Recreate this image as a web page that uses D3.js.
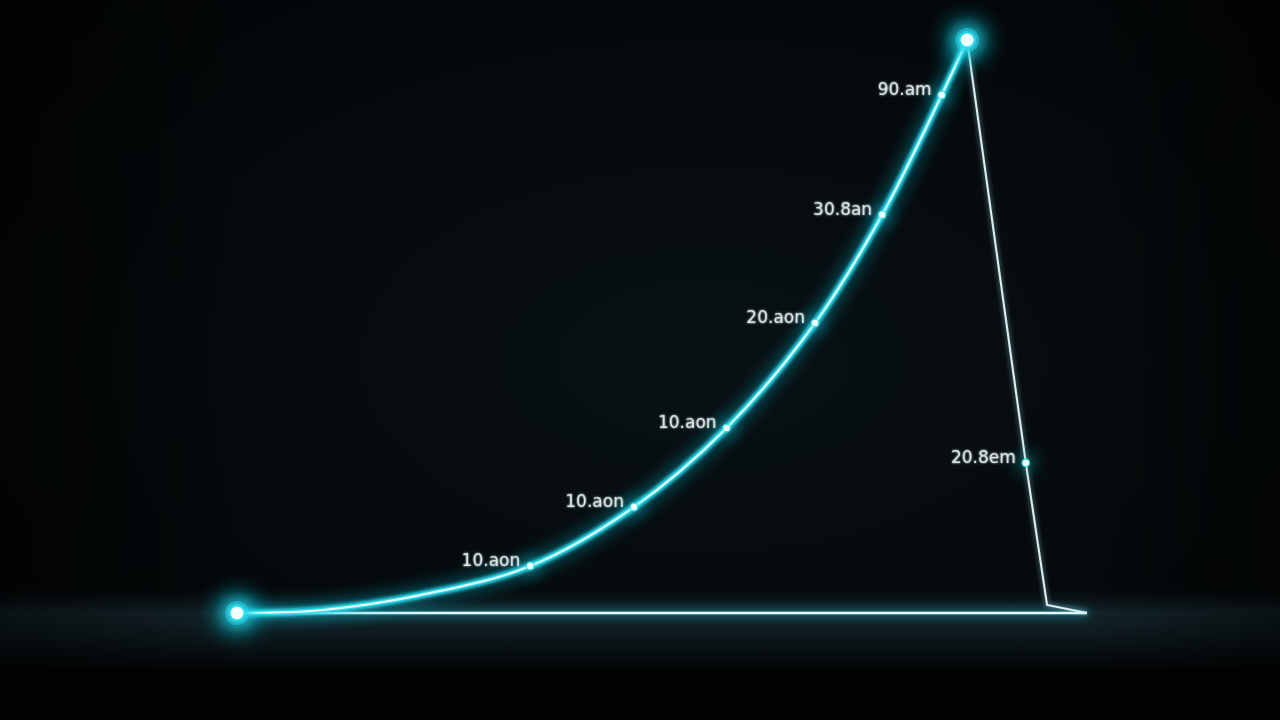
<!DOCTYPE html>
<html><head><meta charset="utf-8">
<script src="https://cdn.jsdelivr.net/npm/d3@7"></script>
<style>html,body{margin:0;padding:0;background:#04080b;overflow:hidden}svg{display:block}</style>
</head><body>
<svg id="c" width="1280" height="720"></svg>
<script>
// Data (x: 0-100 along baseline, y: 0-100 height)
const curveX = [0, 9.8, 21.5, 34.5, 46.7, 57.6, 68.0, 75.9, 82.9, 85.9];
const curveY = [0, 0.5, 3.1, 8.2, 18.5, 32.3, 50.6, 69.5, 90.4, 100];
const curveLabels = ["", "", "", "10.aon", "10.aon", "10.aon", "20.aon", "30.8an", "90.am", ""];
const curveDots = [true, false, false, true, true, true, true, true, true, true];
const dropX = [85.9, 92.8, 95.3, 100];
const dropY = [100, 26.2, 1.4, 0];
const dropLabels = ["", "20.8em", "", ""];

const svg = d3.select("#c");
const W = 1280, H = 720;
const x = d3.scaleLinear().domain([0, 100]).range([237, 1087]);
const y = d3.scaleLinear().domain([0, 100]).range([613, 40]);

const defs = svg.append("defs");
const bg = defs.append("radialGradient").attr("id","bg").attr("cx","55%").attr("cy","50%").attr("r","75%");
bg.append("stop").attr("offset","0%").attr("stop-color","#091114");
bg.append("stop").attr("offset","100%").attr("stop-color","#020405");
const band = defs.append("linearGradient").attr("id","band").attr("x1",0).attr("y1",0).attr("x2",0).attr("y2",1);
band.append("stop").attr("offset","0%").attr("stop-color","#0b1418").attr("stop-opacity",0);
band.append("stop").attr("offset","30%").attr("stop-color","#14242a").attr("stop-opacity",1);
band.append("stop").attr("offset","55%").attr("stop-color","#0e1b20").attr("stop-opacity",1);
band.append("stop").attr("offset","100%").attr("stop-color","#030506").attr("stop-opacity",1);
const hz = defs.append("linearGradient").attr("id","hz").attr("x1",0).attr("x2",1);
hz.append("stop").attr("offset","0%").attr("stop-color","#000").attr("stop-opacity",0.5);
hz.append("stop").attr("offset","20%").attr("stop-color","#000").attr("stop-opacity",0);
hz.append("stop").attr("offset","85%").attr("stop-color","#000").attr("stop-opacity",0);
hz.append("stop").attr("offset","100%").attr("stop-color","#000").attr("stop-opacity",0.5);

function glow(id, std, strength) {
  const f = defs.append("filter").attr("id", id).attr("filterUnits","userSpaceOnUse")
    .attr("x",0).attr("y",0).attr("width",W).attr("height",H);
  f.append("feGaussianBlur").attr("in","SourceGraphic").attr("stdDeviation",std).attr("result","b");
  const m = f.append("feMerge");
  for (let i = 0; i < strength; i++) m.append("feMergeNode").attr("in","b");
  m.append("feMergeNode").attr("in","SourceGraphic");
}
glow("g1", 6, 2);
glow("g2", 2.5, 2);
glow("g3", 9, 2);
glow("g4", 14, 3);
glow("gt", 1.2, 1);

svg.append("rect").attr("width",W).attr("height",H).attr("fill","url(#bg)");
svg.append("rect").attr("x",0).attr("y",588).attr("width",W).attr("height",80).attr("fill","url(#band)");
svg.append("rect").attr("x",0).attr("y",668).attr("width",W).attr("height",52).attr("fill","#020304");
svg.append("rect").attr("width",W).attr("height",H).attr("fill","url(#hz)");

// baseline
const base = svg.append("g");
base.append("line").attr("x1", x(0)).attr("x2", x(100)).attr("y1", y(0)).attr("y2", y(0))
  .attr("stroke", "#1fb8c8").attr("stroke-width", 5).attr("opacity", 0.4).attr("filter","url(#g1)");
base.append("line").attr("x1", x(0)).attr("x2", x(100)).attr("y1", y(0)).attr("y2", y(0))
  .attr("stroke", "#e6fbff").attr("stroke-width", 2.5);

// drop line
const drop = dropX.map((d,i)=>[d, dropY[i]]);
const lineStraight = d3.line().x(d=>x(d[0])).y(d=>y(d[1]));
svg.append("path").attr("d", lineStraight(drop)).attr("fill","none")
  .attr("stroke","#9fdce6").attr("stroke-width",3).attr("opacity",0.3).attr("filter","url(#g2)");
svg.append("path").attr("d", lineStraight(drop)).attr("fill","none")
  .attr("stroke","#dfeef1").attr("stroke-width",2);

// curve
const pts = curveX.map((d,i)=>[d, curveY[i]]);
const lineCurve = d3.line().x(d=>x(d[0])).y(d=>y(d[1])).curve(d3.curveCatmullRom.alpha(0.5));
svg.append("path").attr("d", lineCurve(pts)).attr("fill","none")
  .attr("stroke","#00b8d4").attr("stroke-width",8).attr("opacity",0.45).attr("filter","url(#g3)");
svg.append("path").attr("d", lineCurve(pts)).attr("fill","none")
  .attr("stroke","#35dff0").attr("stroke-width",4).attr("filter","url(#g2)");
svg.append("path").attr("d", lineCurve(pts)).attr("fill","none")
  .attr("stroke","#e9ffff").attr("stroke-width",2);

// dots
const all = pts.map((p,i)=>({p, label: curveLabels[i], big: i===0 || i===pts.length-1, skip: !curveDots[i]}))
  .concat(drop.map((p,i)=>({p, label: dropLabels[i], big:false, skip: i!==1})));
const dots = all.filter(d=>!d.skip);
svg.selectAll("circle.halo").data(dots.filter(d=>d.big)).join("circle")
  .attr("cx", d=>x(d.p[0])).attr("cy", d=>y(d.p[1]))
  .attr("r", 12).attr("fill","#20d0e6").attr("opacity",0.7).attr("filter","url(#g4)");
svg.selectAll("circle.glow").data(dots).join("circle")
  .attr("cx", d=>x(d.p[0])).attr("cy", d=>y(d.p[1]))
  .attr("r", d=>d.big ? 9 : 4.5).attr("fill","#2fe0f0").attr("opacity",0.85).attr("filter","url(#g3)");
svg.selectAll("circle.core").data(dots).join("circle")
  .attr("cx", d=>x(d.p[0])).attr("cy", d=>y(d.p[1]))
  .attr("r", d=>d.big ? 6.5 : 3.2).attr("fill","#f2ffff");

// labels
svg.selectAll("text.lab").data(dots.filter(d=>d.label)).join("text")
  .attr("x", d=>x(d.p[0]) - 10).attr("y", d=>y(d.p[1]) + 0)
  .attr("text-anchor","end")
  .attr("font-family","DejaVu Sans, sans-serif").attr("font-size",17)
  .attr("fill","#d9e4e6").attr("filter","url(#gt)")
  .text(d=>d.label);
</script>
</body></html>
